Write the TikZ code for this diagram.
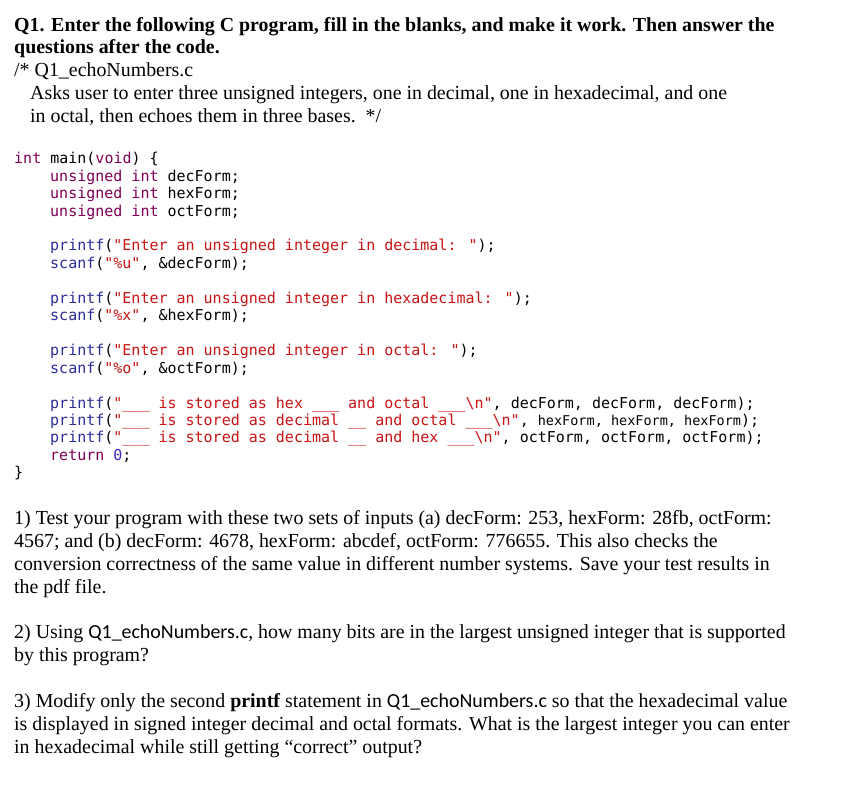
\documentclass[tikz,border=0pt]{standalone}
\usepackage{fontspec}
\setmainfont{Liberation Serif}
\newfontfamily\codef{DejaVu Sans Mono}
\newfontfamily\calib{Carlito}
\definecolor{kw}{RGB}{127,0,85}
\definecolor{fn}{RGB}{45,45,150}
\definecolor{st}{RGB}{200,20,20}
\definecolor{nm}{RGB}{60,40,200}
\newcommand{\kwd}[1]{\textcolor{kw}{#1}}
\newcommand{\fnc}[1]{\textcolor{fn}{#1}}
\newcommand{\str}[1]{\textcolor{st}{#1}}
\tikzset{txt/.style={anchor=base west,inner sep=0pt,font=\fontsize{19.9}{23}\selectfont},
code/.style={anchor=base west,inner sep=0pt,font=\codef\fontsize{15}{17}\selectfont}}
\begin{document}
\begin{tikzpicture}[x=1pt,y=-1pt]
\useasboundingbox[fill=white] (0,0) rectangle (861,785);
\node[txt] (t1) at (14,31) {\bfseries Q1. Enter the following C program, fill in the blanks, and make it work. Then answer the};
\node[txt] (t2) at (14,53) {\bfseries questions after the code.};
\node[txt] (t3) at (14,76) {/* Q1\_echoNumbers.c};
\node[txt] (t4) at (30,99) {Asks user to enter three unsigned integers, one in decimal, one in hexadecimal, and one};
\node[txt] (t5) at (30,122) {in octal, then echoes them in three bases.\ \ */};
\node[code] (c1) at (14,163) {\kwd{int} main(\kwd{void}) \{};
\node[code] (c2) at (50,181) {\kwd{unsigned} \kwd{int} decForm;};
\node[code] (c3) at (50,198) {\kwd{unsigned} \kwd{int} hexForm;};
\node[code] (c4) at (50,216) {\kwd{unsigned} \kwd{int} octForm;};
\node[code] (c5) at (50,250) {\fnc{printf}(\str{"Enter an unsigned integer in decimal: "});};
\node[code] (c6) at (50,268) {\fnc{scanf}(\str{"\%u"}, \&decForm);};
\node[code] (c7) at (50,303) {\fnc{printf}(\str{"Enter an unsigned integer in hexadecimal: "});};
\node[code] (c8) at (50,320) {\fnc{scanf}(\str{"\%x"}, \&hexForm);};
\node[code] (c9) at (50,355) {\fnc{printf}(\str{"Enter an unsigned integer in octal: "});};
\node[code] (c10) at (50,373) {\fnc{scanf}(\str{"\%o"}, \&octForm);};
\node[code] (c11) at (50,408) {\fnc{printf}(\str{"\_\_\_ is stored as hex \_\_\_ and octal \_\_\_\textbackslash n"}, decForm, decForm, decForm);};
\node[code] (c12) at (50,425) {\fnc{printf}(\str{"\_\_\_ is stored as decimal \_\_ and octal \_\_\_\textbackslash n"}, {\fontsize{13.5}{15}\selectfont hexForm, hexForm, hexForm});};
\node[code] (c13) at (50,442) {\fnc{printf}(\str{"\_\_\_ is stored as decimal \_\_ and hex \_\_\_\textbackslash n"}, octForm, octForm, octForm);};
\node[code] (c14) at (50,460) {\kwd{return} \textcolor{nm}{0};};
\node[code] (c15) at (14,477) {\}};
\node[txt] (p1) at (14,524) {1) Test your program with these two sets of inputs (a) decForm: 253, hexForm: 28fb, octForm:};
\node[txt] (p2) at (14,547) {4567; and (b) decForm: 4678, hexForm: abcdef, octForm: 776655. This also checks the};
\node[txt] (p3) at (14,570) {conversion correctness of the same value in different number systems. Save your test results in};
\node[txt] (p4) at (14,593) {the pdf file.};
\node[txt] (q1) at (14,638) {2) Using {\calib Q1\_echoNumbers.c}, how many bits are in the largest unsigned integer that is supported};
\node[txt] (q2) at (14,661) {by this program?};
\node[txt] (r1) at (14,707) {3) Modify only the second \textbf{printf} statement in {\calib Q1\_echoNumbers.c} so that the hexadecimal value};
\node[txt] (r2) at (14,730) {is displayed in signed integer decimal and octal formats. What is the largest integer you can enter};
\node[txt] (r3) at (14,753) {in hexadecimal while still getting ``correct'' output?};
\end{tikzpicture}
\end{document}
